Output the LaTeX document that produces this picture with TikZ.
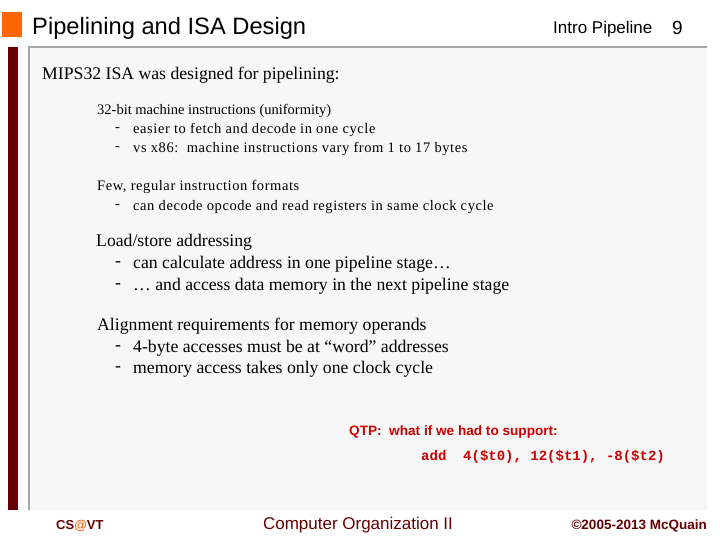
\documentclass[tikz,border=0pt]{standalone}
\usepackage{fontspec}
\setmainfont{Liberation Serif}
\setsansfont{Liberation Sans}
\setmonofont{Liberation Mono}
\newfontfamily\spacedserif{Liberation Serif}[LetterSpace=4]
\definecolor{maroon}{HTML}{660000}
\definecolor{orng}{HTML}{FF6600}
\definecolor{qred}{HTML}{CC0000}
\definecolor{panel}{HTML}{F7F7F7}
\tikzset{
 txt/.style={anchor=west,inner sep=0pt},
 small/.style={txt,font=\spacedserif\fontsize{14.5}{16}\selectfont},
 big/.style={txt,font=\fontsize{17.7}{19}\selectfont},
}
\begin{document}
\begin{tikzpicture}[x=1pt,y=-1pt]
\useasboundingbox (0,0) rectangle (720,540);
\fill[white] (0,0) rectangle (720,540);
\fill[orng] (2,12) rectangle (22,37);
\fill[panel] (29,47) rectangle (707,510);
\draw[gray!70,line width=2pt] (29,510) -- (29,47) -- (707,47);
\fill[maroon] (8,47) rectangle (18,510);
\node[txt,font=\sffamily\fontsize{23.7}{26}\selectfont] (title) at (32,28) {Pipelining and ISA Design};
\node[txt,font=\sffamily\fontsize{17}{19}\selectfont] (sec) at (553,29) {Intro Pipeline};
\node[txt,font=\sffamily\fontsize{19}{21}\selectfont] (num) at (672,28) {9};
\node[big] (h) at (42,75) {MIPS32 ISA was designed for pipelining:};
\node[txt,font=\fontsize{14.5}{16}\selectfont] (a0) at (97,111) {32-bit machine instructions (uniformity)};
\node[small] (a1d) at (115,130) {-}; \node[small] (a1) at (133,130) {easier to fetch and decode in one cycle};
\node[small] (a2d) at (115,149) {-}; \node[small] (a2) at (133,149) {vs x86:\ \ machine instructions vary from\ 1 to 17 bytes};
\node[small] (b0) at (97,187) {Few, regular instruction formats};
\node[small] (b1d) at (115,207) {-}; \node[small] (b1) at (133,207) {can decode opcode and read registers in same clock cycle};
\node[big] (c0) at (96,242) {Load/store addressing};
\node[big] (c1d) at (115,264) {-}; \node[big] (c1) at (133,264) {can calculate address in one pipeline stage…};
\node[big] (c2d) at (115,286) {-}; \node[big] (c2) at (133,286) {… and access data memory in the next pipeline stage};
\node[big] (d0) at (97,326) {Alignment requirements for memory operands};
\node[big] (d1d) at (115,348) {-}; \node[big] (d1) at (133,348) {4-byte accesses must be at “word” addresses};
\node[big] (d2d) at (115,369) {-}; \node[big] (d2) at (133,369) {memory access takes only one clock cycle};
\node[txt,font=\sffamily\bfseries\fontsize{13.6}{15}\selectfont,text=qred] (q) at (349,432) {QTP:\ \ what if we had to support:};
\node[txt,font=\ttfamily\bfseries\fontsize{14}{15}\selectfont,text=qred] (code) at (421,457) {add\ \ 4(\$t0), 12(\$t1), -8(\$t2)};
\node[txt,font=\sffamily\bfseries\fontsize{13}{15}\selectfont,text=maroon] (cs) at (56,526) {CS\textcolor{orng}{@}VT};
\node[font=\sffamily\fontsize{17}{19}\selectfont,text=maroon,inner sep=0pt] (co) at (358,525) {Computer Organization II};
\node[anchor=east,inner sep=0pt,font=\sffamily\bfseries\fontsize{13.5}{15}\selectfont,text=maroon] (cp) at (707,526) {©2005-2013 McQuain};
\end{tikzpicture}
\end{document}
